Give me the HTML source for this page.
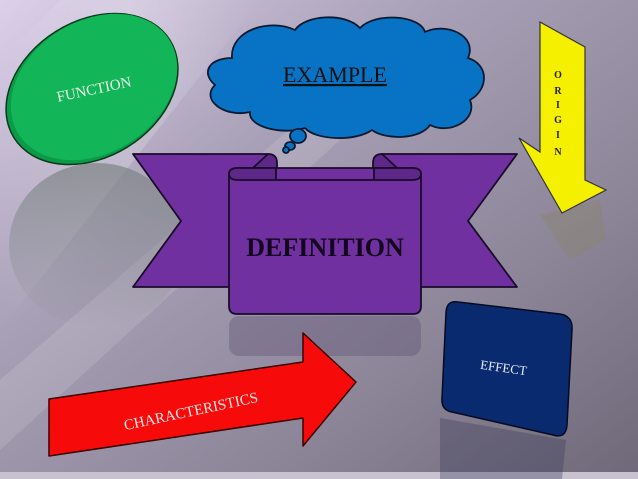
<!DOCTYPE html>
<html><head><meta charset="utf-8"><style>
html,body{margin:0;padding:0;width:638px;height:479px;overflow:hidden}
svg{display:block}
text{font-family:"Liberation Serif",serif}
</style></head><body>
<svg width="638" height="479" viewBox="0 0 638 479">
<defs>
<linearGradient id="bg" x1="0" y1="0" x2="1" y2="1">
<stop offset="0" stop-color="#dcd0ea"/>
<stop offset="0.35" stop-color="#a8a0b6"/>
<stop offset="0.7" stop-color="#8c8598"/>
<stop offset="1" stop-color="#6e6878"/>
</linearGradient>
<linearGradient id="beam" x1="0" y1="0" x2="1" y2="0">
<stop offset="0" stop-color="#fff" stop-opacity="0"/>
<stop offset="0.5" stop-color="#fff" stop-opacity="0.35"/>
<stop offset="1" stop-color="#fff" stop-opacity="0"/>
</linearGradient>
<linearGradient id="refl" x1="0" y1="0" x2="0" y2="1">
<stop offset="0" stop-color="#7a8282" stop-opacity="0.7"/>
<stop offset="1" stop-color="#7a8282" stop-opacity="0"/>
</linearGradient>
</defs>
<rect width="638" height="479" fill="url(#bg)"/>
<polygon points="0,60 60,0 260,0 0,330" fill="url(#beam)" opacity="0.6"/>
<polygon points="0,380 300,120 340,140 0,450" fill="#fff" opacity="0.12"/>
<rect x="0" y="472" width="638" height="7" fill="#c8c2d0"/>
<!-- reflections -->
<ellipse cx="97" cy="245" rx="88" ry="82" fill="url(#refl)"/>
<rect x="229" y="316" width="192" height="40" rx="10" fill="#5a4a70" opacity="0.35"/>
<polygon points="440,418 566,440 562,479 440,479" fill="#3a3a55" opacity="0.35"/>
<polygon points="540,215 600,200 606,240 570,260" fill="#8a8560" opacity="0.35"/>
<!-- green ellipse -->
<ellipse cx="92" cy="89" rx="92" ry="68" transform="rotate(-32 92 89)" fill="#0a9a48" stroke="#0a3a1a" stroke-width="1.5"/>
<ellipse cx="94" cy="87" rx="89" ry="66" transform="rotate(-32 94 87)" fill="#12b558"/>
<text x="95" y="94" font-size="15" fill="#e8f4e8" text-anchor="middle" transform="rotate(-12 95 94)">FUNCTION</text>
<!-- cloud -->
<g fill="#0873c4" stroke="#0a1a30" stroke-width="1.8">
<path d="M232,58 C230,30 270,18 295,30 C305,15 345,12 360,28 C375,12 420,15 425,32 C445,22 478,35 468,58 C490,65 488,90 470,100 C478,120 450,135 430,125 C420,140 385,140 372,130 C355,142 315,140 305,128 C285,135 248,128 250,112 C225,118 200,100 215,85 C200,72 210,58 232,58 Z"/>
<ellipse cx="298" cy="136" rx="8" ry="7"/>
<ellipse cx="290" cy="146" rx="5" ry="4"/>
<ellipse cx="286" cy="150" rx="3" ry="3"/>
</g>
<text x="335" y="82" font-size="22" fill="#111" text-anchor="middle" text-decoration="underline">EXAMPLE</text>
<!-- ribbon -->
<g stroke="#1a0a2a" stroke-width="1.8" stroke-linejoin="round">
<polygon points="133,154 268,154 268,287 133,287 181,221" fill="#7030a0"/>
<polygon points="517,154 382,154 382,287 517,287 468,221" fill="#7030a0"/>
<path d="M268,154 Q277,154 277,163 L277,180 L240,180 Z" fill="#5e2888"/>
<path d="M382,154 Q373,154 373,163 L373,180 L410,180 Z" fill="#5e2888"/>
<path d="M238,168 L412,168 Q421,168 421,174 L421,306 Q421,314 413,314 L237,314 Q229,314 229,306 L229,174 Q229,168 238,168 Z" fill="#7030a0"/>
<path d="M238,168 Q229,168 229,174 Q229,180 238,180 L276,180 L276,168 Z" fill="#5e2888"/>
<path d="M412,168 Q421,168 421,174 Q421,180 412,180 L374,180 L374,168 Z" fill="#5e2888"/>
<line x1="276" y1="180" x2="374" y2="180"/>
</g>
<text x="325" y="256" font-size="26" font-weight="bold" fill="#12061e" text-anchor="middle">DEFINITION</text>
<!-- origin arrow -->
<polygon points="540,22 585,47 585,180 606,190 562,213 519,138 540,152" fill="#f5f000" stroke="#333" stroke-width="1.2"/>
<g font-size="10" font-weight="bold" fill="#222" text-anchor="middle">
<text x="558" y="78">O</text><text x="558" y="94">R</text><text x="558" y="108">I</text><text x="558" y="123">G</text><text x="558" y="138">I</text><text x="558" y="155">N</text>
</g>
<!-- red arrow -->
<polygon points="49,399 303,362 303,333 356,382 303,446 303,418 49,456" fill="#f70a0a" stroke="#3a0000" stroke-width="1.5" stroke-linejoin="round"/>
<text x="192" y="416" font-size="15" fill="#f4e6e6" text-anchor="middle" transform="rotate(-12 192 416)">CHARACTERISTICS</text>
<!-- blue rect -->
<path d="M458,302 L560,314 Q573,316 572,330 L567,425 Q566,439 553,435 L452,412 Q441,410 442,398 L446,312 Q447,300 458,302 Z" fill="#0a2a70" stroke="#050a20" stroke-width="1.5"/>
<text x="503" y="372" font-size="13" fill="#e8ecf6" text-anchor="middle" transform="rotate(8 503 372)">EFFECT</text>
</svg>
</body></html>
